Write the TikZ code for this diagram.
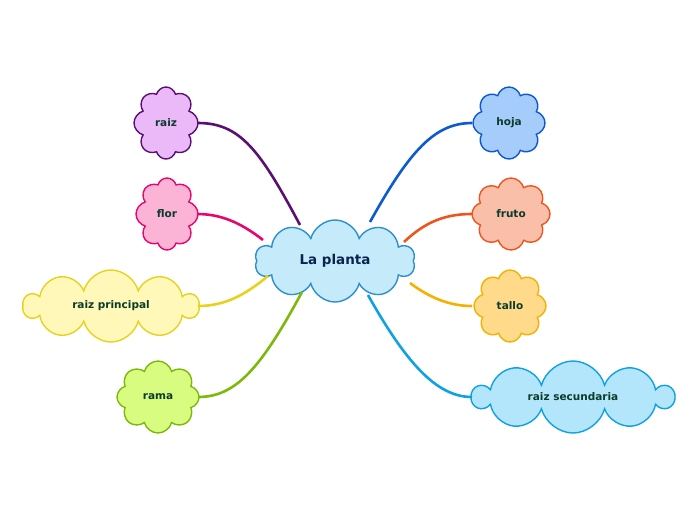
\documentclass[tikz,border=0pt]{standalone}
\usepackage{fontspec}
\setmainfont{DejaVu Sans}
\usetikzlibrary{shapes.symbols}
\definecolor{cfill}{HTML}{C5EBFB}\definecolor{cdraw}{HTML}{2C8FCF}
\definecolor{afill}{HTML}{EBB8F8}\definecolor{adraw}{HTML}{5B0F73}
\definecolor{bfill}{HTML}{FBB3D6}\definecolor{bdraw}{HTML}{E8066E}
\definecolor{dfill}{HTML}{FFF8B8}\definecolor{ddraw}{HTML}{E7D21E}
\definecolor{efill}{HTML}{D8FC80}\definecolor{edraw}{HTML}{7DB80A}
\definecolor{ffill}{HTML}{A6CCFB}\definecolor{fdraw}{HTML}{0B5BCF}
\definecolor{gfill}{HTML}{F9BFA8}\definecolor{gdraw}{HTML}{F0541E}
\definecolor{hfill}{HTML}{FFDA8A}\definecolor{hdraw}{HTML}{F5B000}
\definecolor{ifill}{HTML}{B3E6FB}\definecolor{idraw}{HTML}{0EA2E3}
\definecolor{tgreen}{HTML}{0B3B2B}\definecolor{tnavy}{HTML}{0A2350}
\begin{document}
\begin{tikzpicture}[x=1pt,y=-1pt,
 cl/.style={cloud,cloud puffs=#1,cloud ignores aspect,line width=1.4pt,inner sep=0pt,font=\bfseries\fontsize{10.5}{12}\selectfont,text=tgreen},
 cl/.default=9,
 link/.style={line width=2.6pt}]
\useasboundingbox (0,0) rectangle (696,520);
\node[cl=10,fill=cfill,draw=cdraw,minimum width=160,minimum height=82,text=tnavy,font=\bfseries\fontsize{13.5}{15}\selectfont] (c) at (335,261) {La planta};
\node[cl=8,fill=afill,draw=adraw,minimum width=64,minimum height=72] (a) at (166,123) {raiz};
\node[cl=8,fill=bfill,draw=bdraw,minimum width=62,minimum height=72] (b) at (167,214) {flor};
\node[cl=10,fill=dfill,draw=ddraw,minimum width=175,minimum height=72] (d) at (111,306) {raiz principal};
\node[cl=8,fill=efill,draw=edraw,minimum width=82,minimum height=72] (e) at (158,397) {rama};
\node[cl=8,fill=ffill,draw=fdraw,minimum width=72,minimum height=72] (f) at (509,123) {hoja};
\node[cl=8,fill=gfill,draw=gdraw,minimum width=78,minimum height=72] (g) at (511,214) {fruto};
\node[cl=8,fill=hfill,draw=hdraw,minimum width=72,minimum height=72] (h) at (510,306) {tallo};
\node[cl=10,fill=ifill,draw=idraw,minimum width=200,minimum height=72] (i) at (573,397) {raiz secundaria};
\begin{scope}[on background layer/.style={}]
\end{scope}
\coordinate (ca) at (300,225); \coordinate (cb) at (263,240); \coordinate (cd) at (268,276); \coordinate (ce) at (302,292);
\coordinate (cf) at (370,222); \coordinate (cg) at (404,242); \coordinate (ch) at (410,283); \coordinate (ci) at (368,295);
\coordinate (ea) at (198,123); \coordinate (eb) at (197,214); \coordinate (ed) at (198,306); \coordinate (ee) at (198,397);
\coordinate (ef) at (472,123); \coordinate (eg) at (472,214); \coordinate (eh) at (472,306); \coordinate (ei) at (472,397);
\draw[link,adraw] (ca) .. controls (260,150) and (240,123) .. (ea);
\draw[link,bdraw] (cb) .. controls (240,222) and (220,214) .. (eb);
\draw[link,ddraw] (cd) .. controls (245,295) and (225,306) .. (ed);
\draw[link,edraw] (ce) .. controls (260,370) and (235,397) .. (ee);
\draw[link,fdraw] (cf) .. controls (410,150) and (435,123) .. (ef);
\draw[link,gdraw] (cg) .. controls (425,222) and (445,214) .. (eg);
\draw[link,hdraw] (ch) .. controls (430,298) and (450,306) .. (eh);
\draw[link,idraw] (ci) .. controls (410,370) and (440,397) .. (ei);
\end{tikzpicture}
\end{document}
